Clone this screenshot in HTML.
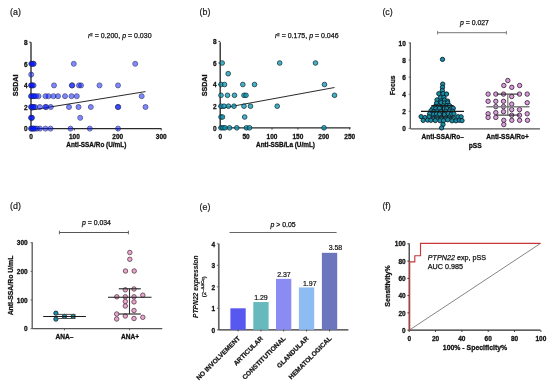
<!DOCTYPE html>
<html><head><meta charset="utf-8"><style>
html,body{margin:0;padding:0;background:#fff;}
svg{display:block;will-change:transform;}
text{font-family:"Liberation Sans", sans-serif;}
</style></head><body>
<svg width="550" height="386" viewBox="0 0 550 386">
<rect width="550" height="386" fill="#fff"/>
<text x="10.00" y="14.80" font-size="8.9" text-anchor="start" font-weight="normal" font-style="normal" fill="#1a1a1a" stroke="#1a1a1a" stroke-width="0.2" stroke-opacity="1">(a)</text>
<text x="199.50" y="14.90" font-size="8.9" text-anchor="start" font-weight="normal" font-style="normal" fill="#1a1a1a" stroke="#1a1a1a" stroke-width="0.2" stroke-opacity="1">(b)</text>
<text x="382.40" y="14.90" font-size="8.9" text-anchor="start" font-weight="normal" font-style="normal" fill="#1a1a1a" stroke="#1a1a1a" stroke-width="0.2" stroke-opacity="1">(c)</text>
<text x="10.00" y="209.30" font-size="8.9" text-anchor="start" font-weight="normal" font-style="normal" fill="#1a1a1a" stroke="#1a1a1a" stroke-width="0.2" stroke-opacity="1">(d)</text>
<text x="199.50" y="209.90" font-size="8.9" text-anchor="start" font-weight="normal" font-style="normal" fill="#1a1a1a" stroke="#1a1a1a" stroke-width="0.2" stroke-opacity="1">(e)</text>
<text x="382.40" y="209.30" font-size="8.9" text-anchor="start" font-weight="normal" font-style="normal" fill="#1a1a1a" stroke="#1a1a1a" stroke-width="0.2" stroke-opacity="1">(f)</text>
<line x1="31.00" y1="42.20" x2="31.00" y2="128.60" stroke="#2a2a2a" stroke-width="1.35" />
<line x1="31.00" y1="128.60" x2="161.50" y2="128.60" stroke="#2a2a2a" stroke-width="1.3" />
<line x1="29.20" y1="128.60" x2="31.00" y2="128.60" stroke="#2a2a2a" stroke-width="0.9" />
<text x="27.50" y="131.34" font-size="6.5" text-anchor="end" font-weight="bold" font-style="normal" fill="#111" stroke="#111" stroke-width="0.28" >0</text>
<line x1="29.20" y1="107.00" x2="31.00" y2="107.00" stroke="#2a2a2a" stroke-width="0.9" />
<text x="27.50" y="109.74" font-size="6.5" text-anchor="end" font-weight="bold" font-style="normal" fill="#111" stroke="#111" stroke-width="0.28" >2</text>
<line x1="29.20" y1="85.40" x2="31.00" y2="85.40" stroke="#2a2a2a" stroke-width="0.9" />
<text x="27.50" y="88.14" font-size="6.5" text-anchor="end" font-weight="bold" font-style="normal" fill="#111" stroke="#111" stroke-width="0.28" >4</text>
<line x1="29.20" y1="63.80" x2="31.00" y2="63.80" stroke="#2a2a2a" stroke-width="0.9" />
<text x="27.50" y="66.54" font-size="6.5" text-anchor="end" font-weight="bold" font-style="normal" fill="#111" stroke="#111" stroke-width="0.28" >6</text>
<line x1="29.20" y1="42.20" x2="31.00" y2="42.20" stroke="#2a2a2a" stroke-width="0.9" />
<text x="27.50" y="44.94" font-size="6.5" text-anchor="end" font-weight="bold" font-style="normal" fill="#111" stroke="#111" stroke-width="0.28" >8</text>
<line x1="31.00" y1="128.60" x2="31.00" y2="130.40" stroke="#2a2a2a" stroke-width="0.9" />
<text x="31.00" y="138.74" font-size="6.5" text-anchor="middle" font-weight="bold" font-style="normal" fill="#111" stroke="#111" stroke-width="0.28" >0</text>
<line x1="74.40" y1="128.60" x2="74.40" y2="130.40" stroke="#2a2a2a" stroke-width="0.9" />
<text x="74.40" y="138.74" font-size="6.5" text-anchor="middle" font-weight="bold" font-style="normal" fill="#111" stroke="#111" stroke-width="0.28" >100</text>
<line x1="117.80" y1="128.60" x2="117.80" y2="130.40" stroke="#2a2a2a" stroke-width="0.9" />
<text x="117.80" y="138.74" font-size="6.5" text-anchor="middle" font-weight="bold" font-style="normal" fill="#111" stroke="#111" stroke-width="0.28" >200</text>
<line x1="161.20" y1="128.60" x2="161.20" y2="130.40" stroke="#2a2a2a" stroke-width="0.9" />
<text x="161.20" y="138.74" font-size="6.5" text-anchor="middle" font-weight="bold" font-style="normal" fill="#111" stroke="#111" stroke-width="0.28" >300</text>
<text x="96.30" y="147.40" font-size="6.4" text-anchor="middle" font-weight="bold" font-style="normal" fill="#111" stroke="#111" stroke-width="0.28" >Anti-SSA/Ro (U/mL)</text>
<text x="17.86" y="85.40" font-size="7.1" text-anchor="middle" font-weight="bold" font-style="normal" fill="#111" transform="rotate(-90 17.86 85.40)" stroke="#111" stroke-width="0.28" >SSDAI</text>
<text x="88" y="38.48" font-size="7.0" fill="#111" stroke="#111" stroke-width="0.25"><tspan font-style="italic">r</tspan><tspan font-size="4.3" dy="-2.3">2</tspan><tspan dy="2.3"> = 0.200, </tspan><tspan font-style="italic">p</tspan> = 0.030</text>
<line x1="31.00" y1="110.10" x2="145.50" y2="91.60" stroke="#2a2a2a" stroke-width="1.0" />
<g fill="none" stroke="#1a1a60" stroke-width="0.8" stroke-opacity="0.85">
<circle cx="31.30" cy="63.80" r="2.5"/>
<circle cx="31.80" cy="63.80" r="2.5"/>
<circle cx="33.30" cy="63.80" r="2.5"/>
<circle cx="33.60" cy="63.80" r="2.5"/>
<circle cx="73.80" cy="63.80" r="2.5"/>
<circle cx="135.20" cy="63.80" r="2.5"/>
<circle cx="31.20" cy="74.60" r="2.5"/>
<circle cx="31.00" cy="85.40" r="2.5"/>
<circle cx="31.50" cy="85.40" r="2.5"/>
<circle cx="32.50" cy="85.40" r="2.5"/>
<circle cx="33.50" cy="85.40" r="2.5"/>
<circle cx="54.00" cy="85.40" r="2.5"/>
<circle cx="71.80" cy="85.40" r="2.5"/>
<circle cx="72.30" cy="85.40" r="2.5"/>
<circle cx="79.00" cy="85.40" r="2.5"/>
<circle cx="81.00" cy="85.40" r="2.5"/>
<circle cx="99.50" cy="85.40" r="2.5"/>
<circle cx="118.00" cy="85.40" r="2.5"/>
<circle cx="31.00" cy="96.20" r="2.5"/>
<circle cx="31.50" cy="96.20" r="2.5"/>
<circle cx="33.50" cy="96.20" r="2.5"/>
<circle cx="34.00" cy="96.20" r="2.5"/>
<circle cx="36.00" cy="96.20" r="2.5"/>
<circle cx="38.50" cy="96.20" r="2.5"/>
<circle cx="45.50" cy="96.20" r="2.5"/>
<circle cx="48.50" cy="96.20" r="2.5"/>
<circle cx="53.50" cy="96.20" r="2.5"/>
<circle cx="58.00" cy="96.20" r="2.5"/>
<circle cx="65.00" cy="96.20" r="2.5"/>
<circle cx="71.50" cy="96.20" r="2.5"/>
<circle cx="76.80" cy="96.20" r="2.5"/>
<circle cx="141.70" cy="96.20" r="2.5"/>
<circle cx="31.00" cy="107.00" r="2.5"/>
<circle cx="31.50" cy="107.00" r="2.5"/>
<circle cx="33.00" cy="107.00" r="2.5"/>
<circle cx="33.50" cy="107.00" r="2.5"/>
<circle cx="35.00" cy="107.00" r="2.5"/>
<circle cx="39.80" cy="107.00" r="2.5"/>
<circle cx="45.30" cy="107.00" r="2.5"/>
<circle cx="46.30" cy="107.00" r="2.5"/>
<circle cx="50.80" cy="107.00" r="2.5"/>
<circle cx="69.00" cy="107.00" r="2.5"/>
<circle cx="78.50" cy="107.00" r="2.5"/>
<circle cx="90.80" cy="107.00" r="2.5"/>
<circle cx="117.80" cy="107.00" r="2.5"/>
<circle cx="118.30" cy="107.00" r="2.5"/>
<circle cx="145.50" cy="107.00" r="2.5"/>
<circle cx="31.00" cy="117.80" r="2.5"/>
<circle cx="31.50" cy="117.80" r="2.5"/>
<circle cx="32.00" cy="117.80" r="2.5"/>
<circle cx="80.20" cy="117.80" r="2.5"/>
<circle cx="31.00" cy="128.60" r="2.5"/>
<circle cx="31.50" cy="128.60" r="2.5"/>
<circle cx="33.00" cy="128.60" r="2.5"/>
<circle cx="33.50" cy="128.60" r="2.5"/>
<circle cx="35.00" cy="128.60" r="2.5"/>
<circle cx="37.00" cy="128.60" r="2.5"/>
<circle cx="40.00" cy="128.60" r="2.5"/>
<circle cx="45.50" cy="128.60" r="2.5"/>
<circle cx="50.50" cy="128.60" r="2.5"/>
<circle cx="70.50" cy="128.60" r="2.5"/>
<circle cx="89.80" cy="128.60" r="2.5"/>
<circle cx="118.00" cy="128.60" r="2.5"/>
</g>
<g fill="#0018ff" fill-opacity="0.52">
<circle cx="31.30" cy="63.80" r="2.15"/>
<circle cx="31.80" cy="63.80" r="2.15"/>
<circle cx="33.30" cy="63.80" r="2.15"/>
<circle cx="33.60" cy="63.80" r="2.15"/>
<circle cx="73.80" cy="63.80" r="2.15"/>
<circle cx="135.20" cy="63.80" r="2.15"/>
<circle cx="31.20" cy="74.60" r="2.15"/>
<circle cx="31.00" cy="85.40" r="2.15"/>
<circle cx="31.50" cy="85.40" r="2.15"/>
<circle cx="32.50" cy="85.40" r="2.15"/>
<circle cx="33.50" cy="85.40" r="2.15"/>
<circle cx="54.00" cy="85.40" r="2.15"/>
<circle cx="71.80" cy="85.40" r="2.15"/>
<circle cx="72.30" cy="85.40" r="2.15"/>
<circle cx="79.00" cy="85.40" r="2.15"/>
<circle cx="81.00" cy="85.40" r="2.15"/>
<circle cx="99.50" cy="85.40" r="2.15"/>
<circle cx="118.00" cy="85.40" r="2.15"/>
<circle cx="31.00" cy="96.20" r="2.15"/>
<circle cx="31.50" cy="96.20" r="2.15"/>
<circle cx="33.50" cy="96.20" r="2.15"/>
<circle cx="34.00" cy="96.20" r="2.15"/>
<circle cx="36.00" cy="96.20" r="2.15"/>
<circle cx="38.50" cy="96.20" r="2.15"/>
<circle cx="45.50" cy="96.20" r="2.15"/>
<circle cx="48.50" cy="96.20" r="2.15"/>
<circle cx="53.50" cy="96.20" r="2.15"/>
<circle cx="58.00" cy="96.20" r="2.15"/>
<circle cx="65.00" cy="96.20" r="2.15"/>
<circle cx="71.50" cy="96.20" r="2.15"/>
<circle cx="76.80" cy="96.20" r="2.15"/>
<circle cx="141.70" cy="96.20" r="2.15"/>
<circle cx="31.00" cy="107.00" r="2.15"/>
<circle cx="31.50" cy="107.00" r="2.15"/>
<circle cx="33.00" cy="107.00" r="2.15"/>
<circle cx="33.50" cy="107.00" r="2.15"/>
<circle cx="35.00" cy="107.00" r="2.15"/>
<circle cx="39.80" cy="107.00" r="2.15"/>
<circle cx="45.30" cy="107.00" r="2.15"/>
<circle cx="46.30" cy="107.00" r="2.15"/>
<circle cx="50.80" cy="107.00" r="2.15"/>
<circle cx="69.00" cy="107.00" r="2.15"/>
<circle cx="78.50" cy="107.00" r="2.15"/>
<circle cx="90.80" cy="107.00" r="2.15"/>
<circle cx="117.80" cy="107.00" r="2.15"/>
<circle cx="118.30" cy="107.00" r="2.15"/>
<circle cx="145.50" cy="107.00" r="2.15"/>
<circle cx="31.00" cy="117.80" r="2.15"/>
<circle cx="31.50" cy="117.80" r="2.15"/>
<circle cx="32.00" cy="117.80" r="2.15"/>
<circle cx="80.20" cy="117.80" r="2.15"/>
<circle cx="31.00" cy="128.60" r="2.15"/>
<circle cx="31.50" cy="128.60" r="2.15"/>
<circle cx="33.00" cy="128.60" r="2.15"/>
<circle cx="33.50" cy="128.60" r="2.15"/>
<circle cx="35.00" cy="128.60" r="2.15"/>
<circle cx="37.00" cy="128.60" r="2.15"/>
<circle cx="40.00" cy="128.60" r="2.15"/>
<circle cx="45.50" cy="128.60" r="2.15"/>
<circle cx="50.50" cy="128.60" r="2.15"/>
<circle cx="70.50" cy="128.60" r="2.15"/>
<circle cx="89.80" cy="128.60" r="2.15"/>
<circle cx="118.00" cy="128.60" r="2.15"/>
</g>
<line x1="220.20" y1="42.20" x2="220.20" y2="127.80" stroke="#2a2a2a" stroke-width="1.35" />
<line x1="220.20" y1="127.80" x2="350.60" y2="127.80" stroke="#2a2a2a" stroke-width="1.3" />
<line x1="218.40" y1="127.80" x2="220.20" y2="127.80" stroke="#2a2a2a" stroke-width="0.9" />
<text x="216.70" y="130.54" font-size="6.5" text-anchor="end" font-weight="bold" font-style="normal" fill="#111" stroke="#111" stroke-width="0.28" >0</text>
<line x1="218.40" y1="106.20" x2="220.20" y2="106.20" stroke="#2a2a2a" stroke-width="0.9" />
<text x="216.70" y="108.94" font-size="6.5" text-anchor="end" font-weight="bold" font-style="normal" fill="#111" stroke="#111" stroke-width="0.28" >2</text>
<line x1="218.40" y1="84.60" x2="220.20" y2="84.60" stroke="#2a2a2a" stroke-width="0.9" />
<text x="216.70" y="87.34" font-size="6.5" text-anchor="end" font-weight="bold" font-style="normal" fill="#111" stroke="#111" stroke-width="0.28" >4</text>
<line x1="218.40" y1="63.00" x2="220.20" y2="63.00" stroke="#2a2a2a" stroke-width="0.9" />
<text x="216.70" y="65.74" font-size="6.5" text-anchor="end" font-weight="bold" font-style="normal" fill="#111" stroke="#111" stroke-width="0.28" >6</text>
<line x1="218.40" y1="41.40" x2="220.20" y2="41.40" stroke="#2a2a2a" stroke-width="0.9" />
<text x="216.70" y="44.14" font-size="6.5" text-anchor="end" font-weight="bold" font-style="normal" fill="#111" stroke="#111" stroke-width="0.28" >8</text>
<line x1="220.20" y1="127.80" x2="220.20" y2="129.60" stroke="#2a2a2a" stroke-width="0.9" />
<text x="220.20" y="138.74" font-size="6.5" text-anchor="middle" font-weight="bold" font-style="normal" fill="#111" stroke="#111" stroke-width="0.28" >0</text>
<line x1="246.10" y1="127.80" x2="246.10" y2="129.60" stroke="#2a2a2a" stroke-width="0.9" />
<text x="246.10" y="138.74" font-size="6.5" text-anchor="middle" font-weight="bold" font-style="normal" fill="#111" stroke="#111" stroke-width="0.28" >50</text>
<line x1="272.00" y1="127.80" x2="272.00" y2="129.60" stroke="#2a2a2a" stroke-width="0.9" />
<text x="272.00" y="138.74" font-size="6.5" text-anchor="middle" font-weight="bold" font-style="normal" fill="#111" stroke="#111" stroke-width="0.28" >100</text>
<line x1="297.90" y1="127.80" x2="297.90" y2="129.60" stroke="#2a2a2a" stroke-width="0.9" />
<text x="297.90" y="138.74" font-size="6.5" text-anchor="middle" font-weight="bold" font-style="normal" fill="#111" stroke="#111" stroke-width="0.28" >150</text>
<line x1="323.80" y1="127.80" x2="323.80" y2="129.60" stroke="#2a2a2a" stroke-width="0.9" />
<text x="323.80" y="138.74" font-size="6.5" text-anchor="middle" font-weight="bold" font-style="normal" fill="#111" stroke="#111" stroke-width="0.28" >200</text>
<line x1="349.70" y1="127.80" x2="349.70" y2="129.60" stroke="#2a2a2a" stroke-width="0.9" />
<text x="349.70" y="138.74" font-size="6.5" text-anchor="middle" font-weight="bold" font-style="normal" fill="#111" stroke="#111" stroke-width="0.28" >250</text>
<text x="285.50" y="147.40" font-size="6.4" text-anchor="middle" font-weight="bold" font-style="normal" fill="#111" stroke="#111" stroke-width="0.28" >Anti-SSB/La (U/mL)</text>
<text x="207.06" y="85.40" font-size="7.1" text-anchor="middle" font-weight="bold" font-style="normal" fill="#111" transform="rotate(-90 207.06 85.40)" stroke="#111" stroke-width="0.28" >SSDAI</text>
<text x="275" y="38.48" font-size="7.0" fill="#111" stroke="#111" stroke-width="0.25"><tspan font-style="italic">r</tspan><tspan font-size="4.3" dy="-2.3">2</tspan><tspan dy="2.3"> = 0.175, </tspan><tspan font-style="italic">p</tspan> = 0.046</text>
<line x1="220.20" y1="108.50" x2="334.50" y2="87.50" stroke="#2a2a2a" stroke-width="1.0" />
<circle cx="222.20" cy="63.00" r="2.35" fill="#0a94b2" fill-opacity="0.75" stroke="#0a2a32" stroke-width="0.8" stroke-opacity="0.9"/>
<circle cx="279.70" cy="63.00" r="2.35" fill="#0a94b2" fill-opacity="0.75" stroke="#0a2a32" stroke-width="0.8" stroke-opacity="0.9"/>
<circle cx="315.50" cy="63.00" r="2.35" fill="#0a94b2" fill-opacity="0.75" stroke="#0a2a32" stroke-width="0.8" stroke-opacity="0.9"/>
<circle cx="228.20" cy="73.70" r="2.35" fill="#0a94b2" fill-opacity="0.75" stroke="#0a2a32" stroke-width="0.8" stroke-opacity="0.9"/>
<circle cx="221.00" cy="84.50" r="2.35" fill="#0a94b2" fill-opacity="0.75" stroke="#0a2a32" stroke-width="0.8" stroke-opacity="0.9"/>
<circle cx="224.50" cy="84.50" r="2.35" fill="#0a94b2" fill-opacity="0.75" stroke="#0a2a32" stroke-width="0.8" stroke-opacity="0.9"/>
<circle cx="242.80" cy="84.50" r="2.35" fill="#0a94b2" fill-opacity="0.75" stroke="#0a2a32" stroke-width="0.8" stroke-opacity="0.9"/>
<circle cx="254.50" cy="84.50" r="2.35" fill="#0a94b2" fill-opacity="0.75" stroke="#0a2a32" stroke-width="0.8" stroke-opacity="0.9"/>
<circle cx="324.50" cy="84.50" r="2.35" fill="#0a94b2" fill-opacity="0.75" stroke="#0a2a32" stroke-width="0.8" stroke-opacity="0.9"/>
<circle cx="221.00" cy="95.30" r="2.35" fill="#0a94b2" fill-opacity="0.75" stroke="#0a2a32" stroke-width="0.8" stroke-opacity="0.9"/>
<circle cx="227.50" cy="95.30" r="2.35" fill="#0a94b2" fill-opacity="0.75" stroke="#0a2a32" stroke-width="0.8" stroke-opacity="0.9"/>
<circle cx="234.50" cy="95.30" r="2.35" fill="#0a94b2" fill-opacity="0.75" stroke="#0a2a32" stroke-width="0.8" stroke-opacity="0.9"/>
<circle cx="244.00" cy="95.30" r="2.35" fill="#0a94b2" fill-opacity="0.75" stroke="#0a2a32" stroke-width="0.8" stroke-opacity="0.9"/>
<circle cx="246.00" cy="95.30" r="2.35" fill="#0a94b2" fill-opacity="0.75" stroke="#0a2a32" stroke-width="0.8" stroke-opacity="0.9"/>
<circle cx="334.50" cy="95.30" r="2.35" fill="#0a94b2" fill-opacity="0.75" stroke="#0a2a32" stroke-width="0.8" stroke-opacity="0.9"/>
<circle cx="221.00" cy="106.20" r="2.35" fill="#0a94b2" fill-opacity="0.75" stroke="#0a2a32" stroke-width="0.8" stroke-opacity="0.9"/>
<circle cx="224.00" cy="106.20" r="2.35" fill="#0a94b2" fill-opacity="0.75" stroke="#0a2a32" stroke-width="0.8" stroke-opacity="0.9"/>
<circle cx="228.50" cy="106.20" r="2.35" fill="#0a94b2" fill-opacity="0.75" stroke="#0a2a32" stroke-width="0.8" stroke-opacity="0.9"/>
<circle cx="234.00" cy="106.20" r="2.35" fill="#0a94b2" fill-opacity="0.75" stroke="#0a2a32" stroke-width="0.8" stroke-opacity="0.9"/>
<circle cx="244.00" cy="106.20" r="2.35" fill="#0a94b2" fill-opacity="0.75" stroke="#0a2a32" stroke-width="0.8" stroke-opacity="0.9"/>
<circle cx="250.50" cy="106.20" r="2.35" fill="#0a94b2" fill-opacity="0.75" stroke="#0a2a32" stroke-width="0.8" stroke-opacity="0.9"/>
<circle cx="277.20" cy="106.20" r="2.35" fill="#0a94b2" fill-opacity="0.75" stroke="#0a2a32" stroke-width="0.8" stroke-opacity="0.9"/>
<circle cx="221.00" cy="117.00" r="2.35" fill="#0a94b2" fill-opacity="0.75" stroke="#0a2a32" stroke-width="0.8" stroke-opacity="0.9"/>
<circle cx="222.50" cy="117.00" r="2.35" fill="#0a94b2" fill-opacity="0.75" stroke="#0a2a32" stroke-width="0.8" stroke-opacity="0.9"/>
<circle cx="244.70" cy="117.00" r="2.35" fill="#0a94b2" fill-opacity="0.75" stroke="#0a2a32" stroke-width="0.8" stroke-opacity="0.9"/>
<circle cx="221.00" cy="127.80" r="2.35" fill="#0a94b2" fill-opacity="0.75" stroke="#0a2a32" stroke-width="0.8" stroke-opacity="0.9"/>
<circle cx="223.00" cy="127.80" r="2.35" fill="#0a94b2" fill-opacity="0.75" stroke="#0a2a32" stroke-width="0.8" stroke-opacity="0.9"/>
<circle cx="225.00" cy="127.80" r="2.35" fill="#0a94b2" fill-opacity="0.75" stroke="#0a2a32" stroke-width="0.8" stroke-opacity="0.9"/>
<circle cx="229.50" cy="127.80" r="2.35" fill="#0a94b2" fill-opacity="0.75" stroke="#0a2a32" stroke-width="0.8" stroke-opacity="0.9"/>
<circle cx="236.80" cy="127.80" r="2.35" fill="#0a94b2" fill-opacity="0.75" stroke="#0a2a32" stroke-width="0.8" stroke-opacity="0.9"/>
<circle cx="246.50" cy="127.80" r="2.35" fill="#0a94b2" fill-opacity="0.75" stroke="#0a2a32" stroke-width="0.8" stroke-opacity="0.9"/>
<circle cx="249.50" cy="127.80" r="2.35" fill="#0a94b2" fill-opacity="0.75" stroke="#0a2a32" stroke-width="0.8" stroke-opacity="0.9"/>
<circle cx="324.00" cy="127.80" r="2.35" fill="#0a94b2" fill-opacity="0.75" stroke="#0a2a32" stroke-width="0.8" stroke-opacity="0.9"/>
<line x1="410.30" y1="42.60" x2="410.30" y2="128.40" stroke="#555" stroke-width="1.3" />
<line x1="410.30" y1="128.80" x2="540.00" y2="128.80" stroke="#555" stroke-width="1.3" />
<line x1="408.70" y1="128.40" x2="410.30" y2="128.40" stroke="#555" stroke-width="0.9" />
<text x="405.80" y="131.14" font-size="6.5" text-anchor="end" font-weight="bold" font-style="normal" fill="#111" stroke="#111" stroke-width="0.28" >0</text>
<line x1="408.70" y1="111.30" x2="410.30" y2="111.30" stroke="#555" stroke-width="0.9" />
<text x="405.80" y="114.04" font-size="6.5" text-anchor="end" font-weight="bold" font-style="normal" fill="#111" stroke="#111" stroke-width="0.28" >2</text>
<line x1="408.70" y1="94.20" x2="410.30" y2="94.20" stroke="#555" stroke-width="0.9" />
<text x="405.80" y="96.94" font-size="6.5" text-anchor="end" font-weight="bold" font-style="normal" fill="#111" stroke="#111" stroke-width="0.28" >4</text>
<line x1="408.70" y1="77.10" x2="410.30" y2="77.10" stroke="#555" stroke-width="0.9" />
<text x="405.80" y="79.84" font-size="6.5" text-anchor="end" font-weight="bold" font-style="normal" fill="#111" stroke="#111" stroke-width="0.28" >6</text>
<line x1="408.70" y1="60.00" x2="410.30" y2="60.00" stroke="#555" stroke-width="0.9" />
<text x="405.80" y="62.74" font-size="6.5" text-anchor="end" font-weight="bold" font-style="normal" fill="#111" stroke="#111" stroke-width="0.28" >8</text>
<line x1="408.70" y1="42.90" x2="410.30" y2="42.90" stroke="#555" stroke-width="0.9" />
<text x="405.80" y="45.64" font-size="6.5" text-anchor="end" font-weight="bold" font-style="normal" fill="#111" stroke="#111" stroke-width="0.28" >10</text>
<line x1="442.50" y1="128.40" x2="442.50" y2="130.00" stroke="#555" stroke-width="0.9" />
<line x1="508.00" y1="128.40" x2="508.00" y2="130.00" stroke="#555" stroke-width="0.9" />
<text x="442.70" y="139.04" font-size="6.5" text-anchor="middle" font-weight="bold" font-style="normal" fill="#111" stroke="#111" stroke-width="0.28" >Anti-SSA/Ro–</text>
<text x="507.50" y="139.04" font-size="6.5" text-anchor="middle" font-weight="bold" font-style="normal" fill="#111" stroke="#111" stroke-width="0.28" >Anti-SSA/Ro+</text>
<text x="475.20" y="148.21" font-size="6.7" text-anchor="middle" font-weight="bold" font-style="normal" fill="#111" stroke="#111" stroke-width="0.28" >pSS</text>
<text x="394.81" y="85.40" font-size="6.7" text-anchor="middle" font-weight="bold" font-style="normal" fill="#111" transform="rotate(-90 394.81 85.40)" stroke="#111" stroke-width="0.28" >Focus</text>
<line x1="437.60" y1="32.70" x2="506.40" y2="32.70" stroke="#777" stroke-width="1.0" />
<line x1="437.60" y1="30.90" x2="437.60" y2="34.50" stroke="#777" stroke-width="0.9" />
<line x1="506.40" y1="30.90" x2="506.40" y2="34.50" stroke="#777" stroke-width="0.9" />
<text x="474.5" y="25.48" font-size="6.9" text-anchor="middle" fill="#111" stroke="#111" stroke-width="0.25"><tspan font-style="italic">p</tspan> = 0.027</text>
<circle cx="442.50" cy="59.40" r="2.15" fill="#1d8ca6" stroke="#06222a" stroke-width="0.9" fill-opacity="1.0"/>
<circle cx="442.70" cy="84.10" r="2.15" fill="#1d8ca6" stroke="#06222a" stroke-width="0.9" fill-opacity="1.0"/>
<circle cx="442.50" cy="87.30" r="2.15" fill="#1d8ca6" stroke="#06222a" stroke-width="0.9" fill-opacity="1.0"/>
<circle cx="442.30" cy="90.50" r="2.15" fill="#1d8ca6" stroke="#06222a" stroke-width="0.9" fill-opacity="1.0"/>
<circle cx="438.79" cy="93.71" r="2.15" fill="#1d8ca6" stroke="#06222a" stroke-width="0.9" fill-opacity="1.0"/>
<circle cx="443.18" cy="93.60" r="2.15" fill="#1d8ca6" stroke="#06222a" stroke-width="0.9" fill-opacity="1.0"/>
<circle cx="446.54" cy="94.01" r="2.15" fill="#1d8ca6" stroke="#06222a" stroke-width="0.9" fill-opacity="1.0"/>
<circle cx="440.47" cy="97.51" r="2.15" fill="#1d8ca6" stroke="#06222a" stroke-width="0.9" fill-opacity="1.0"/>
<circle cx="443.94" cy="97.41" r="2.15" fill="#1d8ca6" stroke="#06222a" stroke-width="0.9" fill-opacity="1.0"/>
<circle cx="436.98" cy="99.93" r="2.15" fill="#1d8ca6" stroke="#06222a" stroke-width="0.9" fill-opacity="1.0"/>
<circle cx="440.91" cy="100.96" r="2.15" fill="#1d8ca6" stroke="#06222a" stroke-width="0.9" fill-opacity="1.0"/>
<circle cx="444.55" cy="100.11" r="2.15" fill="#1d8ca6" stroke="#06222a" stroke-width="0.9" fill-opacity="1.0"/>
<circle cx="447.65" cy="101.13" r="2.15" fill="#1d8ca6" stroke="#06222a" stroke-width="0.9" fill-opacity="1.0"/>
<circle cx="436.59" cy="103.16" r="2.15" fill="#1d8ca6" stroke="#06222a" stroke-width="0.9" fill-opacity="1.0"/>
<circle cx="441.07" cy="102.67" r="2.15" fill="#1d8ca6" stroke="#06222a" stroke-width="0.9" fill-opacity="1.0"/>
<circle cx="444.43" cy="103.01" r="2.15" fill="#1d8ca6" stroke="#06222a" stroke-width="0.9" fill-opacity="1.0"/>
<circle cx="447.57" cy="102.76" r="2.15" fill="#1d8ca6" stroke="#06222a" stroke-width="0.9" fill-opacity="1.0"/>
<circle cx="435.27" cy="106.44" r="2.15" fill="#1d8ca6" stroke="#06222a" stroke-width="0.9" fill-opacity="1.0"/>
<circle cx="438.62" cy="106.11" r="2.15" fill="#1d8ca6" stroke="#06222a" stroke-width="0.9" fill-opacity="1.0"/>
<circle cx="443.17" cy="105.82" r="2.15" fill="#1d8ca6" stroke="#06222a" stroke-width="0.9" fill-opacity="1.0"/>
<circle cx="447.06" cy="105.39" r="2.15" fill="#1d8ca6" stroke="#06222a" stroke-width="0.9" fill-opacity="1.0"/>
<circle cx="449.47" cy="105.59" r="2.15" fill="#1d8ca6" stroke="#06222a" stroke-width="0.9" fill-opacity="1.0"/>
<circle cx="432.72" cy="108.50" r="2.15" fill="#1d8ca6" stroke="#06222a" stroke-width="0.9" fill-opacity="1.0"/>
<circle cx="435.78" cy="108.72" r="2.15" fill="#1d8ca6" stroke="#06222a" stroke-width="0.9" fill-opacity="1.0"/>
<circle cx="439.44" cy="108.32" r="2.15" fill="#1d8ca6" stroke="#06222a" stroke-width="0.9" fill-opacity="1.0"/>
<circle cx="443.85" cy="108.88" r="2.15" fill="#1d8ca6" stroke="#06222a" stroke-width="0.9" fill-opacity="1.0"/>
<circle cx="446.69" cy="108.70" r="2.15" fill="#1d8ca6" stroke="#06222a" stroke-width="0.9" fill-opacity="1.0"/>
<circle cx="450.53" cy="109.13" r="2.15" fill="#1d8ca6" stroke="#06222a" stroke-width="0.9" fill-opacity="1.0"/>
<circle cx="453.28" cy="108.30" r="2.15" fill="#1d8ca6" stroke="#06222a" stroke-width="0.9" fill-opacity="1.0"/>
<circle cx="431.08" cy="110.67" r="2.15" fill="#1d8ca6" stroke="#06222a" stroke-width="0.9" fill-opacity="1.0"/>
<circle cx="433.90" cy="111.56" r="2.15" fill="#1d8ca6" stroke="#06222a" stroke-width="0.9" fill-opacity="1.0"/>
<circle cx="437.08" cy="111.18" r="2.15" fill="#1d8ca6" stroke="#06222a" stroke-width="0.9" fill-opacity="1.0"/>
<circle cx="440.95" cy="111.44" r="2.15" fill="#1d8ca6" stroke="#06222a" stroke-width="0.9" fill-opacity="1.0"/>
<circle cx="445.82" cy="111.30" r="2.15" fill="#1d8ca6" stroke="#06222a" stroke-width="0.9" fill-opacity="1.0"/>
<circle cx="449.45" cy="110.94" r="2.15" fill="#1d8ca6" stroke="#06222a" stroke-width="0.9" fill-opacity="1.0"/>
<circle cx="452.73" cy="111.33" r="2.15" fill="#1d8ca6" stroke="#06222a" stroke-width="0.9" fill-opacity="1.0"/>
<circle cx="429.60" cy="113.84" r="2.15" fill="#1d8ca6" stroke="#06222a" stroke-width="0.9" fill-opacity="1.0"/>
<circle cx="433.41" cy="114.52" r="2.15" fill="#1d8ca6" stroke="#06222a" stroke-width="0.9" fill-opacity="1.0"/>
<circle cx="436.47" cy="114.13" r="2.15" fill="#1d8ca6" stroke="#06222a" stroke-width="0.9" fill-opacity="1.0"/>
<circle cx="439.47" cy="114.18" r="2.15" fill="#1d8ca6" stroke="#06222a" stroke-width="0.9" fill-opacity="1.0"/>
<circle cx="444.18" cy="114.59" r="2.15" fill="#1d8ca6" stroke="#06222a" stroke-width="0.9" fill-opacity="1.0"/>
<circle cx="448.39" cy="113.60" r="2.15" fill="#1d8ca6" stroke="#06222a" stroke-width="0.9" fill-opacity="1.0"/>
<circle cx="451.36" cy="114.14" r="2.15" fill="#1d8ca6" stroke="#06222a" stroke-width="0.9" fill-opacity="1.0"/>
<circle cx="453.93" cy="113.85" r="2.15" fill="#1d8ca6" stroke="#06222a" stroke-width="0.9" fill-opacity="1.0"/>
<circle cx="421.10" cy="116.66" r="2.15" fill="#1d8ca6" stroke="#06222a" stroke-width="0.9" fill-opacity="1.0"/>
<circle cx="424.97" cy="117.58" r="2.15" fill="#1d8ca6" stroke="#06222a" stroke-width="0.9" fill-opacity="1.0"/>
<circle cx="429.06" cy="116.85" r="2.15" fill="#1d8ca6" stroke="#06222a" stroke-width="0.9" fill-opacity="1.0"/>
<circle cx="433.37" cy="117.72" r="2.15" fill="#1d8ca6" stroke="#06222a" stroke-width="0.9" fill-opacity="1.0"/>
<circle cx="437.00" cy="117.13" r="2.15" fill="#1d8ca6" stroke="#06222a" stroke-width="0.9" fill-opacity="1.0"/>
<circle cx="441.56" cy="117.74" r="2.15" fill="#1d8ca6" stroke="#06222a" stroke-width="0.9" fill-opacity="1.0"/>
<circle cx="445.88" cy="117.71" r="2.15" fill="#1d8ca6" stroke="#06222a" stroke-width="0.9" fill-opacity="1.0"/>
<circle cx="449.23" cy="117.08" r="2.15" fill="#1d8ca6" stroke="#06222a" stroke-width="0.9" fill-opacity="1.0"/>
<circle cx="453.33" cy="117.74" r="2.15" fill="#1d8ca6" stroke="#06222a" stroke-width="0.9" fill-opacity="1.0"/>
<circle cx="458.05" cy="116.71" r="2.15" fill="#1d8ca6" stroke="#06222a" stroke-width="0.9" fill-opacity="1.0"/>
<circle cx="461.11" cy="116.82" r="2.15" fill="#1d8ca6" stroke="#06222a" stroke-width="0.9" fill-opacity="1.0"/>
<circle cx="423.18" cy="120.38" r="2.15" fill="#1d8ca6" stroke="#06222a" stroke-width="0.9" fill-opacity="1.0"/>
<circle cx="427.61" cy="120.07" r="2.15" fill="#1d8ca6" stroke="#06222a" stroke-width="0.9" fill-opacity="1.0"/>
<circle cx="430.90" cy="120.29" r="2.15" fill="#1d8ca6" stroke="#06222a" stroke-width="0.9" fill-opacity="1.0"/>
<circle cx="435.34" cy="120.49" r="2.15" fill="#1d8ca6" stroke="#06222a" stroke-width="0.9" fill-opacity="1.0"/>
<circle cx="440.04" cy="120.67" r="2.15" fill="#1d8ca6" stroke="#06222a" stroke-width="0.9" fill-opacity="1.0"/>
<circle cx="443.52" cy="120.56" r="2.15" fill="#1d8ca6" stroke="#06222a" stroke-width="0.9" fill-opacity="1.0"/>
<circle cx="447.71" cy="119.78" r="2.15" fill="#1d8ca6" stroke="#06222a" stroke-width="0.9" fill-opacity="1.0"/>
<circle cx="451.98" cy="120.79" r="2.15" fill="#1d8ca6" stroke="#06222a" stroke-width="0.9" fill-opacity="1.0"/>
<circle cx="455.95" cy="120.82" r="2.15" fill="#1d8ca6" stroke="#06222a" stroke-width="0.9" fill-opacity="1.0"/>
<circle cx="459.37" cy="120.26" r="2.15" fill="#1d8ca6" stroke="#06222a" stroke-width="0.9" fill-opacity="1.0"/>
<circle cx="462.02" cy="120.59" r="2.15" fill="#1d8ca6" stroke="#06222a" stroke-width="0.9" fill-opacity="1.0"/>
<circle cx="443.00" cy="124.50" r="2.15" fill="#1d8ca6" stroke="#06222a" stroke-width="0.9" fill-opacity="1.0"/>
<circle cx="441.60" cy="127.90" r="2.15" fill="#1d8ca6" stroke="#06222a" stroke-width="0.9" fill-opacity="1.0"/>
<line x1="421.00" y1="111.30" x2="464.00" y2="111.30" stroke="#1a1a1a" stroke-width="1.2" />
<line x1="431.30" y1="105.60" x2="453.70" y2="105.60" stroke="#1a1a1a" stroke-width="1.1" />
<line x1="431.30" y1="117.00" x2="453.70" y2="117.00" stroke="#1a1a1a" stroke-width="1.1" />
<line x1="442.50" y1="105.60" x2="442.50" y2="117.00" stroke="#1a1a1a" stroke-width="1.1" />
<circle cx="507.80" cy="80.50" r="2.2" fill="#d99ed9" stroke="#3a243a" stroke-width="0.85" fill-opacity="1.0"/>
<circle cx="503.80" cy="85.50" r="2.2" fill="#d99ed9" stroke="#3a243a" stroke-width="0.85" fill-opacity="1.0"/>
<circle cx="519.60" cy="85.50" r="2.2" fill="#d99ed9" stroke="#3a243a" stroke-width="0.85" fill-opacity="1.0"/>
<circle cx="511.80" cy="87.30" r="2.2" fill="#d99ed9" stroke="#3a243a" stroke-width="0.85" fill-opacity="1.0"/>
<circle cx="488.10" cy="94.10" r="2.2" fill="#d99ed9" stroke="#3a243a" stroke-width="0.85" fill-opacity="1.0"/>
<circle cx="495.80" cy="94.10" r="2.2" fill="#d99ed9" stroke="#3a243a" stroke-width="0.85" fill-opacity="1.0"/>
<circle cx="503.50" cy="94.10" r="2.2" fill="#d99ed9" stroke="#3a243a" stroke-width="0.85" fill-opacity="1.0"/>
<circle cx="519.50" cy="94.10" r="2.2" fill="#d99ed9" stroke="#3a243a" stroke-width="0.85" fill-opacity="1.0"/>
<circle cx="527.20" cy="94.10" r="2.2" fill="#d99ed9" stroke="#3a243a" stroke-width="0.85" fill-opacity="1.0"/>
<circle cx="511.70" cy="96.50" r="2.2" fill="#d99ed9" stroke="#3a243a" stroke-width="0.85" fill-opacity="1.0"/>
<circle cx="488.10" cy="101.30" r="2.2" fill="#d99ed9" stroke="#3a243a" stroke-width="0.85" fill-opacity="1.0"/>
<circle cx="495.80" cy="101.30" r="2.2" fill="#d99ed9" stroke="#3a243a" stroke-width="0.85" fill-opacity="1.0"/>
<circle cx="503.50" cy="101.30" r="2.2" fill="#d99ed9" stroke="#3a243a" stroke-width="0.85" fill-opacity="1.0"/>
<circle cx="527.20" cy="102.70" r="2.2" fill="#d99ed9" stroke="#3a243a" stroke-width="0.85" fill-opacity="1.0"/>
<circle cx="511.70" cy="104.10" r="2.2" fill="#d99ed9" stroke="#3a243a" stroke-width="0.85" fill-opacity="1.0"/>
<circle cx="495.80" cy="106.60" r="2.2" fill="#d99ed9" stroke="#3a243a" stroke-width="0.85" fill-opacity="1.0"/>
<circle cx="503.50" cy="106.60" r="2.2" fill="#d99ed9" stroke="#3a243a" stroke-width="0.85" fill-opacity="1.0"/>
<circle cx="511.70" cy="109.60" r="2.2" fill="#d99ed9" stroke="#3a243a" stroke-width="0.85" fill-opacity="1.0"/>
<circle cx="519.50" cy="109.60" r="2.2" fill="#d99ed9" stroke="#3a243a" stroke-width="0.85" fill-opacity="1.0"/>
<circle cx="503.50" cy="111.70" r="2.2" fill="#d99ed9" stroke="#3a243a" stroke-width="0.85" fill-opacity="1.0"/>
<circle cx="495.80" cy="112.60" r="2.2" fill="#d99ed9" stroke="#3a243a" stroke-width="0.85" fill-opacity="1.0"/>
<circle cx="488.10" cy="113.80" r="2.2" fill="#d99ed9" stroke="#3a243a" stroke-width="0.85" fill-opacity="1.0"/>
<circle cx="527.20" cy="113.80" r="2.2" fill="#d99ed9" stroke="#3a243a" stroke-width="0.85" fill-opacity="1.0"/>
<circle cx="511.70" cy="115.20" r="2.2" fill="#d99ed9" stroke="#3a243a" stroke-width="0.85" fill-opacity="1.0"/>
<circle cx="519.50" cy="115.20" r="2.2" fill="#d99ed9" stroke="#3a243a" stroke-width="0.85" fill-opacity="1.0"/>
<circle cx="488.10" cy="117.40" r="2.2" fill="#d99ed9" stroke="#3a243a" stroke-width="0.85" fill-opacity="1.0"/>
<circle cx="495.80" cy="117.40" r="2.2" fill="#d99ed9" stroke="#3a243a" stroke-width="0.85" fill-opacity="1.0"/>
<circle cx="503.80" cy="120.30" r="2.2" fill="#d99ed9" stroke="#3a243a" stroke-width="0.85" fill-opacity="1.0"/>
<circle cx="511.80" cy="120.30" r="2.2" fill="#d99ed9" stroke="#3a243a" stroke-width="0.85" fill-opacity="1.0"/>
<circle cx="519.60" cy="120.30" r="2.2" fill="#d99ed9" stroke="#3a243a" stroke-width="0.85" fill-opacity="1.0"/>
<circle cx="527.50" cy="120.30" r="2.2" fill="#d99ed9" stroke="#3a243a" stroke-width="0.85" fill-opacity="1.0"/>
<circle cx="503.80" cy="124.60" r="2.2" fill="#d99ed9" stroke="#3a243a" stroke-width="0.85" fill-opacity="1.0"/>
<line x1="486.30" y1="106.80" x2="529.50" y2="106.80" stroke="#808080" stroke-width="1.5" />
<line x1="496.70" y1="94.10" x2="518.50" y2="94.10" stroke="#2a2a2a" stroke-width="1.1" />
<line x1="496.70" y1="115.10" x2="519.50" y2="115.10" stroke="#2a2a2a" stroke-width="1.1" />
<line x1="507.80" y1="94.10" x2="507.80" y2="115.10" stroke="#707070" stroke-width="1.2" />
<line x1="32.20" y1="242.30" x2="32.20" y2="328.70" stroke="#555" stroke-width="1.3" />
<line x1="32.20" y1="328.70" x2="162.30" y2="328.70" stroke="#555" stroke-width="1.3" />
<line x1="30.60" y1="328.70" x2="32.20" y2="328.70" stroke="#555" stroke-width="0.9" />
<text x="27.70" y="331.24" font-size="6.5" text-anchor="end" font-weight="bold" font-style="normal" fill="#111" stroke="#111" stroke-width="0.28" >0</text>
<line x1="30.60" y1="300.03" x2="32.20" y2="300.03" stroke="#555" stroke-width="0.9" />
<text x="27.70" y="302.57" font-size="6.5" text-anchor="end" font-weight="bold" font-style="normal" fill="#111" stroke="#111" stroke-width="0.28" >100</text>
<line x1="30.60" y1="271.36" x2="32.20" y2="271.36" stroke="#555" stroke-width="0.9" />
<text x="27.70" y="273.90" font-size="6.5" text-anchor="end" font-weight="bold" font-style="normal" fill="#111" stroke="#111" stroke-width="0.28" >200</text>
<line x1="30.60" y1="242.69" x2="32.20" y2="242.69" stroke="#555" stroke-width="0.9" />
<text x="27.70" y="245.23" font-size="6.5" text-anchor="end" font-weight="bold" font-style="normal" fill="#111" stroke="#111" stroke-width="0.28" >300</text>
<line x1="64.50" y1="328.70" x2="64.50" y2="330.30" stroke="#555" stroke-width="0.9" />
<line x1="129.50" y1="328.70" x2="129.50" y2="330.30" stroke="#555" stroke-width="0.9" />
<text x="64.50" y="339.28" font-size="6.6" text-anchor="middle" font-weight="bold" font-style="normal" fill="#111" stroke="#111" stroke-width="0.28" >ANA–</text>
<text x="130.00" y="339.28" font-size="6.6" text-anchor="middle" font-weight="bold" font-style="normal" fill="#111" stroke="#111" stroke-width="0.28" >ANA+</text>
<text x="12.67" y="285.50" font-size="6.85" text-anchor="middle" font-weight="bold" font-style="normal" fill="#111" transform="rotate(-90 12.67 285.50)" stroke="#111" stroke-width="0.28" >Anti-SSA/Ro U/mL</text>
<line x1="59.40" y1="232.50" x2="128.40" y2="232.50" stroke="#555" stroke-width="1.0" />
<line x1="59.40" y1="230.70" x2="59.40" y2="234.30" stroke="#555" stroke-width="0.9" />
<line x1="128.40" y1="230.70" x2="128.40" y2="234.30" stroke="#555" stroke-width="0.9" />
<text x="96.5" y="224.78" font-size="6.9" text-anchor="middle" fill="#111" stroke="#111" stroke-width="0.25"><tspan font-style="italic">p</tspan> = 0.034</text>
<circle cx="55.90" cy="313.20" r="2.15" fill="#1e90a8" stroke="#08262c" stroke-width="0.85" fill-opacity="1.0"/>
<circle cx="55.90" cy="319.10" r="2.15" fill="#1e90a8" stroke="#08262c" stroke-width="0.85" fill-opacity="1.0"/>
<circle cx="64.50" cy="316.40" r="2.15" fill="#1e90a8" stroke="#08262c" stroke-width="0.85" fill-opacity="1.0"/>
<circle cx="73.20" cy="316.40" r="2.15" fill="#1e90a8" stroke="#08262c" stroke-width="0.85" fill-opacity="1.0"/>
<line x1="56.40" y1="314.40" x2="75.50" y2="314.40" stroke="#505050" stroke-width="1.0" />
<line x1="56.40" y1="318.50" x2="75.50" y2="318.50" stroke="#505050" stroke-width="1.0" />
<line x1="43.20" y1="316.50" x2="85.90" y2="316.50" stroke="#1a1a1a" stroke-width="1.1" />
<line x1="129.50" y1="288.80" x2="129.50" y2="314.00" stroke="#333" stroke-width="1.1" />
<circle cx="129.80" cy="252.50" r="2.25" fill="#eaa6cd" stroke="#4e3440" stroke-width="0.75" fill-opacity="1.0"/>
<circle cx="129.80" cy="259.30" r="2.25" fill="#eaa6cd" stroke="#4e3440" stroke-width="0.75" fill-opacity="1.0"/>
<circle cx="125.50" cy="271.00" r="2.25" fill="#eaa6cd" stroke="#4e3440" stroke-width="0.75" fill-opacity="1.0"/>
<circle cx="134.20" cy="271.00" r="2.25" fill="#eaa6cd" stroke="#4e3440" stroke-width="0.75" fill-opacity="1.0"/>
<circle cx="125.30" cy="289.80" r="2.25" fill="#eaa6cd" stroke="#4e3440" stroke-width="0.75" fill-opacity="1.0"/>
<circle cx="134.00" cy="289.00" r="2.25" fill="#eaa6cd" stroke="#4e3440" stroke-width="0.75" fill-opacity="1.0"/>
<circle cx="116.80" cy="296.80" r="2.25" fill="#eaa6cd" stroke="#4e3440" stroke-width="0.75" fill-opacity="1.0"/>
<circle cx="125.30" cy="296.80" r="2.25" fill="#eaa6cd" stroke="#4e3440" stroke-width="0.75" fill-opacity="1.0"/>
<circle cx="134.00" cy="296.80" r="2.25" fill="#eaa6cd" stroke="#4e3440" stroke-width="0.75" fill-opacity="1.0"/>
<circle cx="142.80" cy="295.20" r="2.25" fill="#eaa6cd" stroke="#4e3440" stroke-width="0.75" fill-opacity="1.0"/>
<circle cx="125.30" cy="301.50" r="2.25" fill="#eaa6cd" stroke="#4e3440" stroke-width="0.75" fill-opacity="1.0"/>
<circle cx="134.00" cy="301.90" r="2.25" fill="#eaa6cd" stroke="#4e3440" stroke-width="0.75" fill-opacity="1.0"/>
<circle cx="125.30" cy="306.00" r="2.25" fill="#eaa6cd" stroke="#4e3440" stroke-width="0.75" fill-opacity="1.0"/>
<circle cx="134.00" cy="310.50" r="2.25" fill="#eaa6cd" stroke="#4e3440" stroke-width="0.75" fill-opacity="1.0"/>
<circle cx="116.70" cy="314.00" r="2.25" fill="#eaa6cd" stroke="#4e3440" stroke-width="0.75" fill-opacity="1.0"/>
<circle cx="116.70" cy="319.00" r="2.25" fill="#eaa6cd" stroke="#4e3440" stroke-width="0.75" fill-opacity="1.0"/>
<circle cx="125.30" cy="316.00" r="2.25" fill="#eaa6cd" stroke="#4e3440" stroke-width="0.75" fill-opacity="1.0"/>
<circle cx="134.00" cy="318.50" r="2.25" fill="#eaa6cd" stroke="#4e3440" stroke-width="0.75" fill-opacity="1.0"/>
<circle cx="142.80" cy="317.30" r="2.25" fill="#eaa6cd" stroke="#4e3440" stroke-width="0.75" fill-opacity="1.0"/>
<line x1="118.80" y1="288.80" x2="140.80" y2="288.80" stroke="#222" stroke-width="1.1" />
<line x1="108.00" y1="297.20" x2="151.50" y2="297.20" stroke="#1a1a1a" stroke-width="1.1" />
<line x1="118.80" y1="314.00" x2="140.80" y2="314.00" stroke="#222" stroke-width="1.1" />
<line x1="218.80" y1="243.60" x2="218.80" y2="329.80" stroke="#666" stroke-width="1.7" />
<line x1="218.50" y1="329.80" x2="348.40" y2="329.80" stroke="#333" stroke-width="1.3" />
<line x1="216.90" y1="329.80" x2="218.50" y2="329.80" stroke="#555" stroke-width="0.9" />
<text x="215.20" y="332.74" font-size="6.5" text-anchor="end" font-weight="bold" font-style="normal" fill="#111" stroke="#111" stroke-width="0.28" >0</text>
<line x1="216.90" y1="308.30" x2="218.50" y2="308.30" stroke="#555" stroke-width="0.9" />
<text x="215.20" y="311.24" font-size="6.5" text-anchor="end" font-weight="bold" font-style="normal" fill="#111" stroke="#111" stroke-width="0.28" >1</text>
<line x1="216.90" y1="286.80" x2="218.50" y2="286.80" stroke="#555" stroke-width="0.9" />
<text x="215.20" y="289.74" font-size="6.5" text-anchor="end" font-weight="bold" font-style="normal" fill="#111" stroke="#111" stroke-width="0.28" >2</text>
<line x1="216.90" y1="265.30" x2="218.50" y2="265.30" stroke="#555" stroke-width="0.9" />
<text x="215.20" y="268.24" font-size="6.5" text-anchor="end" font-weight="bold" font-style="normal" fill="#111" stroke="#111" stroke-width="0.28" >3</text>
<line x1="216.90" y1="243.80" x2="218.50" y2="243.80" stroke="#555" stroke-width="0.9" />
<text x="215.20" y="246.74" font-size="6.5" text-anchor="end" font-weight="bold" font-style="normal" fill="#111" stroke="#111" stroke-width="0.28" >4</text>
<rect x="230.4" y="308.30" width="15.3" height="21.50" fill="#5858f0"/>
<line x1="238.05" y1="329.80" x2="238.05" y2="331.40" stroke="#333" stroke-width="0.9" />
<text x="238.85" y="337.20" font-size="6.6" font-weight="bold" text-anchor="end" fill="#111" stroke="#111" stroke-width="0.22" transform="rotate(-45 238.85 337.20) translate(0 2.4)">NO INVOLVEMENT</text>
<rect x="253.3" y="302.06" width="15.3" height="27.74" fill="#66b9bd"/>
<line x1="260.95" y1="329.80" x2="260.95" y2="331.40" stroke="#333" stroke-width="0.9" />
<text x="260.95" y="299.72" font-size="7.0" text-anchor="middle" font-weight="normal" font-style="normal" fill="#111" stroke="#111" stroke-width="0.2" >1.29</text>
<text x="261.75" y="337.20" font-size="6.6" font-weight="bold" text-anchor="end" fill="#111" stroke="#111" stroke-width="0.22" transform="rotate(-45 261.75 337.20) translate(0 2.4)">ARTICULAR</text>
<rect x="276.0" y="278.85" width="15.3" height="50.95" fill="#8b8cf3"/>
<line x1="283.65" y1="329.80" x2="283.65" y2="331.40" stroke="#333" stroke-width="0.9" />
<text x="283.95" y="276.92" font-size="7.0" text-anchor="middle" font-weight="normal" font-style="normal" fill="#111" stroke="#111" stroke-width="0.2" >2.37</text>
<text x="284.45" y="337.20" font-size="6.6" font-weight="bold" text-anchor="end" fill="#111" stroke="#111" stroke-width="0.22" transform="rotate(-45 284.45 337.20) translate(0 2.4)">CONSTITUTIONAL</text>
<rect x="298.9" y="287.44" width="15.3" height="42.36" fill="#8cbcf2"/>
<line x1="306.55" y1="329.80" x2="306.55" y2="331.40" stroke="#333" stroke-width="0.9" />
<text x="309.75" y="285.52" font-size="7.0" text-anchor="middle" font-weight="normal" font-style="normal" fill="#111" stroke="#111" stroke-width="0.2" >1.97</text>
<text x="307.35" y="337.20" font-size="6.6" font-weight="bold" text-anchor="end" fill="#111" stroke="#111" stroke-width="0.22" transform="rotate(-45 307.35 337.20) translate(0 2.4)">GLANDULAR</text>
<rect x="321.9" y="252.83" width="15.3" height="76.97" fill="#6b76bd"/>
<line x1="329.55" y1="329.80" x2="329.55" y2="331.40" stroke="#333" stroke-width="0.9" />
<text x="335.45" y="250.42" font-size="7.0" text-anchor="middle" font-weight="normal" font-style="normal" fill="#111" stroke="#111" stroke-width="0.2" >3.58</text>
<text x="330.35" y="337.20" font-size="6.6" font-weight="bold" text-anchor="end" fill="#111" stroke="#111" stroke-width="0.22" transform="rotate(-45 330.35 337.20) translate(0 2.4)">HEMATOLOGICAL</text>
<line x1="229.50" y1="232.50" x2="336.60" y2="232.50" stroke="#666" stroke-width="1.0" />
<text x="283" y="227.48" font-size="6.9" text-anchor="middle" fill="#111" stroke="#111" stroke-width="0.25"><tspan font-style="italic">p</tspan> &gt; 0.05</text>
<text x="196.2" y="286.70" font-size="6.7" font-weight="bold" font-style="italic" text-anchor="middle" fill="#111" stroke="#111" stroke-width="0.12" transform="rotate(-90 196.2 286.7) translate(0 2.3)">PTPN22 expression</text>
<text x="205.3" y="286.70" font-size="5.9" text-anchor="middle" fill="#111" stroke="#111" stroke-width="0.22" transform="rotate(-90 205.3 286.7) translate(0 1.1)">(2<tspan font-size="4.3" dy="-2.1">–ΔΔCq</tspan><tspan dy="2.1">)</tspan></text>
<line x1="409.20" y1="243.40" x2="409.20" y2="330.20" stroke="#2a2a2a" stroke-width="1.2" />
<line x1="409.20" y1="330.20" x2="540.50" y2="330.20" stroke="#2a2a2a" stroke-width="1.2" />
<line x1="407.40" y1="330.20" x2="409.20" y2="330.20" stroke="#2a2a2a" stroke-width="0.9" />
<text x="405.70" y="332.84" font-size="6.5" text-anchor="end" font-weight="bold" font-style="normal" fill="#111" stroke="#111" stroke-width="0.28" >0</text>
<line x1="409.20" y1="330.20" x2="409.20" y2="332.00" stroke="#2a2a2a" stroke-width="0.9" />
<text x="409.20" y="340.94" font-size="6.5" text-anchor="middle" font-weight="bold" font-style="normal" fill="#111" stroke="#111" stroke-width="0.28" >0</text>
<line x1="407.40" y1="312.92" x2="409.20" y2="312.92" stroke="#2a2a2a" stroke-width="0.9" />
<text x="405.70" y="315.56" font-size="6.5" text-anchor="end" font-weight="bold" font-style="normal" fill="#111" stroke="#111" stroke-width="0.28" >20</text>
<line x1="435.54" y1="330.20" x2="435.54" y2="332.00" stroke="#2a2a2a" stroke-width="0.9" />
<text x="435.54" y="340.94" font-size="6.5" text-anchor="middle" font-weight="bold" font-style="normal" fill="#111" stroke="#111" stroke-width="0.28" >20</text>
<line x1="407.40" y1="295.64" x2="409.20" y2="295.64" stroke="#2a2a2a" stroke-width="0.9" />
<text x="405.70" y="298.28" font-size="6.5" text-anchor="end" font-weight="bold" font-style="normal" fill="#111" stroke="#111" stroke-width="0.28" >40</text>
<line x1="461.88" y1="330.20" x2="461.88" y2="332.00" stroke="#2a2a2a" stroke-width="0.9" />
<text x="461.88" y="340.94" font-size="6.5" text-anchor="middle" font-weight="bold" font-style="normal" fill="#111" stroke="#111" stroke-width="0.28" >40</text>
<line x1="407.40" y1="278.36" x2="409.20" y2="278.36" stroke="#2a2a2a" stroke-width="0.9" />
<text x="405.70" y="281.00" font-size="6.5" text-anchor="end" font-weight="bold" font-style="normal" fill="#111" stroke="#111" stroke-width="0.28" >60</text>
<line x1="488.22" y1="330.20" x2="488.22" y2="332.00" stroke="#2a2a2a" stroke-width="0.9" />
<text x="488.22" y="340.94" font-size="6.5" text-anchor="middle" font-weight="bold" font-style="normal" fill="#111" stroke="#111" stroke-width="0.28" >60</text>
<line x1="407.40" y1="261.08" x2="409.20" y2="261.08" stroke="#2a2a2a" stroke-width="0.9" />
<text x="405.70" y="263.72" font-size="6.5" text-anchor="end" font-weight="bold" font-style="normal" fill="#111" stroke="#111" stroke-width="0.28" >80</text>
<line x1="514.56" y1="330.20" x2="514.56" y2="332.00" stroke="#2a2a2a" stroke-width="0.9" />
<text x="514.56" y="340.94" font-size="6.5" text-anchor="middle" font-weight="bold" font-style="normal" fill="#111" stroke="#111" stroke-width="0.28" >80</text>
<line x1="407.40" y1="243.80" x2="409.20" y2="243.80" stroke="#2a2a2a" stroke-width="0.9" />
<text x="405.70" y="246.44" font-size="6.5" text-anchor="end" font-weight="bold" font-style="normal" fill="#111" stroke="#111" stroke-width="0.28" >100</text>
<line x1="540.90" y1="330.20" x2="540.90" y2="332.00" stroke="#2a2a2a" stroke-width="0.9" />
<text x="540.90" y="340.94" font-size="6.5" text-anchor="middle" font-weight="bold" font-style="normal" fill="#111" stroke="#111" stroke-width="0.28" >100</text>
<text x="475.00" y="349.98" font-size="6.9" text-anchor="middle" font-weight="bold" font-style="normal" fill="#111" stroke="#111" stroke-width="0.28" >100% - Specificity%</text>
<text x="389.72" y="286.00" font-size="7.0" text-anchor="middle" font-weight="bold" font-style="normal" fill="#111" transform="rotate(-90 389.72 286.00)" stroke="#111" stroke-width="0.28" >Sensitivity%</text>
<line x1="409.20" y1="330.20" x2="540.50" y2="243.40" stroke="#666" stroke-width="0.8" />
<polyline points="409.7,330.2 409.7,261.8 414.8,261.8 414.8,255.7 420.5,255.7 420.5,243.4 540.5,243.4" fill="none" stroke="#c8363a" stroke-width="1.15"/>
<text x="427.8" y="259.8" font-size="7.2" fill="#111" stroke="#111" stroke-width="0.25"><tspan font-style="italic">PTPN22</tspan> exp, pSS</text>
<text x="427.8" y="268.6" font-size="7.2" fill="#111" stroke="#111" stroke-width="0.25">AUC 0.985</text>
</svg></body></html>
